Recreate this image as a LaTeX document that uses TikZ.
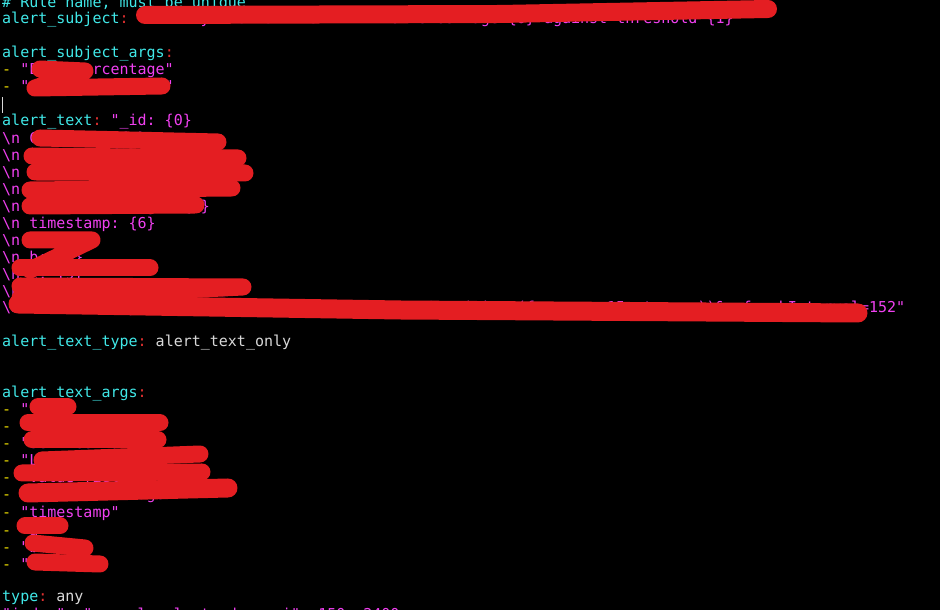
\documentclass[tikz,border=0pt]{standalone}
\usepackage{fontspec}
\setmonofont{DejaVu Sans Mono}
\definecolor{ky}{HTML}{40E8E8}
\definecolor{cl}{HTML}{E03030}
\definecolor{st}{HTML}{F040F0}
\definecolor{dsh}{HTML}{F0E000}
\definecolor{pl}{HTML}{D8D8D8}
\definecolor{scr}{HTML}{E41E22}
\newcommand{\K}[1]{\textcolor{ky}{#1}\textcolor{cl}{:}}
\newcommand{\D}{\textcolor{dsh}{-} }
\newcommand{\NL}{\textbackslash n }
\begin{document}
\begin{tikzpicture}[x=1pt,y=1pt,
  ln/.style={anchor=west,inner sep=0pt,font=\ttfamily\fontsize{15}{17}\selectfont},
  scrib/.style={draw=scr,line width=17pt,line cap=round,line join=round}]
\clip (0,0) rectangle (940,610);
\fill[black] (0,0) rectangle (940,610);
\newcommand{\R}[1]{\the\numexpr 607-17*#1\relax}
\node[ln] (l0) at (2,\R{0}) {\textcolor{ky}{\# Rule name, must be unique}};
\node[ln] (l1) at (2,\R{1}) {\K{alert\_subject} \textcolor{st}{"Anomaly Alerts: DMS API ErrorPercentage \{0\} against threshold \{1\}"}};
\node[ln] (l3) at (2,\R{3}) {\K{alert\_subject\_args}};
\node[ln] (l4) at (2,\R{4}) {\D\textcolor{st}{"ErrorPercentage"}};
\node[ln] (l5) at (2,\R{5}) {\D\textcolor{st}{"threshold\_value"}};
\draw[pl,line width=0.8pt] (2,{\R{6}-8}) -- (2,{\R{6}+8});
\node[ln] (l7) at (2,\R{7}) {\K{alert\_text} \textcolor{st}{"\_id: \{0\}}};
\node[ln] (l8) at (2,\R{8}) {\textcolor{st}{\NL Category: \{1\}}};
\node[ln] (l9) at (2,\R{9}) {\textcolor{st}{\NL Service: \{2\}}};
\node[ln] (l10) at (2,\R{10}) {\textcolor{st}{\NL Host: \{3\}}};
\node[ln] (l11) at (2,\R{11}) {\textcolor{st}{\NL Value: \{4\}}};
\node[ln] (l12) at (2,\R{12}) {\textcolor{st}{\NL ErrorPercentage: \{5\}}};
\node[ln] (l13) at (2,\R{13}) {\textcolor{st}{\NL timestamp: \{6\}}};
\node[ln] (l14) at (2,\R{14}) {\textcolor{st}{\NL a: \{7\}}};
\node[ln] (l15) at (2,\R{15}) {\textcolor{st}{\NL b: \{8\}}};
\node[ln] (l16) at (2,\R{16}) {\textcolor{st}{\NL c: \{9\}}};
\node[ln] (l17) at (2,\R{17}) {\textcolor{st}{\NL Anomaly Detected: True}};
\node[ln] (l18) at (2,\R{18}) {\textcolor{st}{\NL Kibana: http://kibana.example/app/discover\#/?\_g=(time:(from:now-15m,to:now))\&refreshInterval=152"}};
\node[ln] (l20) at (2,\R{20}) {\K{alert\_text\_type} \textcolor{pl}{alert\_text\_only}};
\node[ln] (l23) at (2,\R{23}) {\K{alert\_text\_args}};
\node[ln] (l24) at (2,\R{24}) {\D\textcolor{st}{"\_id"}};
\node[ln] (l25) at (2,\R{25}) {\D\textcolor{st}{"category"}};
\node[ln] (l26) at (2,\R{26}) {\D\textcolor{st}{"service\_name"}};
\node[ln] (l27) at (2,\R{27}) {\D\textcolor{st}{"Load\_balancer"}};
\node[ln] (l28) at (2,\R{28}) {\D\textcolor{st}{"value\_field"}};
\node[ln] (l29) at (2,\R{29}) {\D\textcolor{st}{"ErrorPercentage"}};
\node[ln] (l30) at (2,\R{30}) {\D\textcolor{st}{"timestamp"}};
\node[ln] (l31) at (2,\R{31}) {\D\textcolor{st}{"a"}};
\node[ln] (l32) at (2,\R{32}) {\D\textcolor{st}{"bb"}};
\node[ln] (l33) at (2,\R{33}) {\D\textcolor{st}{"ccc"}};
\node[ln] (l35) at (2,\R{35}) {\K{type} \textcolor{pl}{any}};
\node[ln] (l36) at (2,\R{36}) {\textcolor{st}{"index": "anomaly-alerts-dms-api", 150, 2400}};
% scribbles
\draw[scrib,line width=18pt] (145,595) -- (500,596) -- (768,601);
\draw[scrib] (40,541) -- (85,539) -- (35,522) -- (162,524);
\draw[scrib] (40,472) -- (218,468);
\draw[scrib] (32,454) -- (238,452);
\draw[scrib] (35,438) -- (245,437);
\draw[scrib] (30,420) -- (232,422);
\draw[scrib] (30,404) -- (196,405);
\draw[scrib] (30,370) -- (92,370) -- (30,340);
\draw[scrib] (20,342) -- (150,342);
\draw[scrib] (20,324) -- (243,323) -- (20,312);
\draw[scrib,line width=19pt] (18,306) -- (400,300) -- (858,297);
\draw[scrib] (38,203) -- (68,203);
\draw[scrib] (28,187) -- (160,187);
\draw[scrib] (32,170) -- (158,170);
\draw[scrib] (42,150) -- (200,156);
\draw[scrib] (22,137) -- (202,138);
\draw[scrib,line width=19pt] (28,117) -- (228,122);
\draw[scrib] (25,84) -- (60,84);
\draw[scrib] (33,67) -- (85,62);
\draw[scrib] (35,48) -- (100,46);
\end{tikzpicture}
\end{document}
